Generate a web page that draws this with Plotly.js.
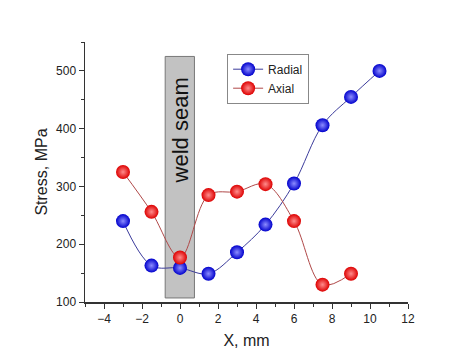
<!DOCTYPE html>
<html><head><meta charset="utf-8">
<script src="https://cdn.plot.ly/plotly-3.0.1.min.js"></script>
<style>html,body{margin:0;padding:0;background:#fff;}#chart{width:474px;height:362px;}</style>
</head><body><div id="chart"></div>
<script>
const xRadial = [-3, -1.5, 0, 1.5, 3, 4.5, 6, 7.5, 9, 10.5];
const radialStress = [240, 163, 159, 149, 186, 234, 305, 406, 455, 500];
const xAxial = [-3, -1.5, 0, 1.5, 3, 4.5, 6, 7.5, 9];
const axialStress = [325, 256, 177, 285, 291, 304, 240, 130, 149];
const seriesNames = ['Radial', 'Axial'];
const seamLabel = 'weld seam';

const radial = {
  x: xRadial, y: radialStress, name: seriesNames[0], type: 'scatter', mode: 'lines+markers',
  line: {color: '#3c3c9c', width: 1, shape: 'spline', smoothing: 1},
  marker: {size: 14, color: '#0000cc', gradient: {type: 'radial', color: '#8c8cff'}}
};
const axial = {
  x: xAxial, y: axialStress, name: seriesNames[1], type: 'scatter', mode: 'lines+markers',
  line: {color: '#b04848', width: 1, shape: 'spline', smoothing: 1},
  marker: {size: 14, color: '#dd0000', gradient: {type: 'radial', color: '#ff8c8c'}}
};

const layout = {
  width: 474, height: 362,
  margin: {l: 85, r: 66, t: 42, b: 60},
  paper_bgcolor: '#fff', plot_bgcolor: '#fff',
  font: {family: 'Liberation Sans, Arial, sans-serif', color: '#222', size: 12},
  showlegend: true,
  legend: {x: 0.44, y: 0.955, xanchor: 'left', yanchor: 'top', bordercolor: '#888', borderwidth: 1,
           bgcolor: '#fff', font: {size: 12, color: '#222'}, tracegroupgap: 0, itemwidth: 30},
  xaxis: {
    range: [-5, 12], tickvals: [-4,-2,0,2,4,6,8,10,12], ticks: 'outside', ticklen: 5, tickwidth: 1,
    tickcolor: '#333', showline: true, linecolor: '#333', linewidth: 1.5, showgrid: false, zeroline: false,
    minor: {dtick: 1, tick0: 0, ticks: 'outside', ticklen: 3, tickcolor: '#333', showgrid: false},
    title: {text: 'X, mm', font: {size: 16, color: '#222'}, standoff: 10},
    tickfont: {size: 12}
  },
  yaxis: {
    range: [100, 550], tickvals: [100,200,300,400,500], ticks: 'outside', ticklen: 5, tickwidth: 1,
    tickcolor: '#333', showline: true, linecolor: '#333', linewidth: 1.5, showgrid: false, zeroline: false,
    minor: {dtick: 50, tick0: 0, ticks: 'outside', ticklen: 3, tickcolor: '#333', showgrid: false},
    title: {text: 'Stress, MPa', font: {size: 16, color: '#222'}, standoff: 4},
    tickfont: {size: 12}
  },
  shapes: [{type: 'rect', xref: 'x', yref: 'y', x0: -0.78, x1: 0.76, y0: 107, y1: 525,
            fillcolor: '#c2c2c2', line: {color: '#777', width: 1}, layer: 'below'}],
  annotations: [{x: 0, y: 397, xref: 'x', yref: 'y', text: seamLabel, showarrow: false, textangle: -90,
                 font: {size: 22, color: '#111'}}]
};

Plotly.newPlot('chart', [radial, axial], layout, {displayModeBar: false, staticPlot: true});
</script></body></html>
